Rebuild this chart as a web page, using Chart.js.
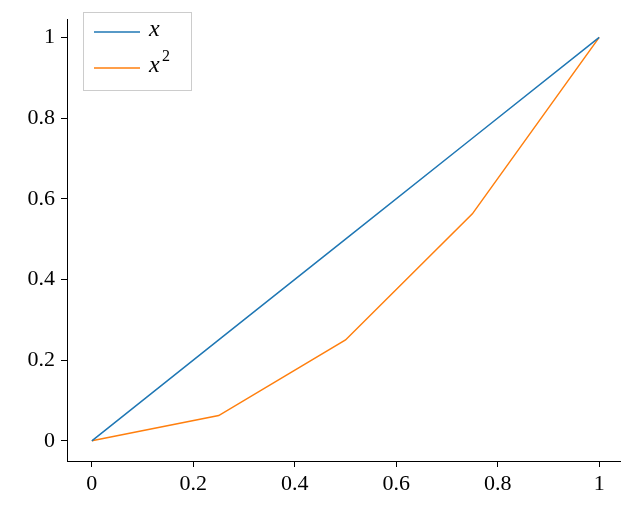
<!DOCTYPE html>
<html>
<head>
<meta charset="utf-8">
<script src="https://cdn.jsdelivr.net/npm/chart.js@4/dist/chart.umd.min.js"></script>
<style>
  html, body { margin: 0; padding: 0; background: #fff; }
  #wrap { width: 621px; height: 509px; }
</style>
</head>
<body>
<div id="wrap"><canvas id="plot" width="621" height="509"></canvas></div>
<script>
const xValues = [0, 0.25, 0.5, 0.75, 1];
const linearValues = [0, 0.25, 0.5, 0.75, 1];
const squareValues = [0, 0.0625, 0.25, 0.5625, 1];
const tickLabels = ["0", "0.2", "0.4", "0.6", "0.8", "1"];

const BLUE = "#1f77b4";
const ORANGE = "#ff7f0e";
const FONT = "'Liberation Serif', 'DejaVu Serif', serif";

// legend box drawn in the top-left corner like the original
const legendBox = {
  id: "legendBox",
  afterDraw(chart) {
    const ctx = chart.ctx;
    ctx.save();
    ctx.strokeStyle = "#cccccc";
    ctx.lineWidth = 1;
    ctx.fillStyle = "#fff";
    ctx.fillRect(83.5, 12.5, 108, 78);
    ctx.strokeRect(83.5, 12.5, 108, 78);
    const rows = [[BLUE, 32, false], [ORANGE, 68, true]];
    rows.forEach(([color, y, sq]) => {
      ctx.strokeStyle = color;
      ctx.lineWidth = 1.5;
      ctx.beginPath();
      ctx.moveTo(94, y);
      ctx.lineTo(140, y);
      ctx.stroke();
      ctx.fillStyle = "#000";
      ctx.font = "italic 24px " + FONT;
      ctx.textBaseline = "middle";
      ctx.fillText("x", 149, y - 2);
      if (sq) {
        ctx.font = "16px " + FONT;
        ctx.fillText("2", 162, y - 11);
      }
    });
    ctx.restore();
  }
};

const toPoints = (ys) => xValues.map((x, i) => ({ x: x, y: ys[i] }));

new Chart(document.getElementById("plot").getContext("2d"), {
  type: "line",
  data: {
    datasets: [
      { label: "x", data: toPoints(linearValues), borderColor: BLUE, borderWidth: 1.5, pointRadius: 0, tension: 0 },
      { label: "x²", data: toPoints(squareValues), borderColor: ORANGE, borderWidth: 1.5, pointRadius: 0, tension: 0 }
    ]
  },
  plugins: [legendBox],
  options: {
    responsive: false,
    animation: false,
    layout: { padding: { top: -18, right: 1, left: 0, bottom: 0 } },
    plugins: { legend: { display: false }, tooltip: { enabled: false } },
    scales: {
      x: {
        type: "linear",
        min: -0.049,
        max: 1.041,
        afterFit: (s) => { s.height = 48; },
        afterBuildTicks: (s) => { s.ticks = [0, 0.2, 0.4, 0.6, 0.8, 1].map(v => ({ value: v })); },
        grid: { drawOnChartArea: false, tickLength: 6, color: "#000" },
        border: { color: "#000", width: 1 },
        ticks: {
          color: "#000",
          font: { family: FONT, size: 22 },
          padding: 4,
          maxRotation: 0,
          callback: (v) => tickLabels[Math.round(v * 5)]
        }
      },
      y: {
        type: "linear",
        min: -0.05,
        max: 1.045,
        afterFit: (s) => { s.width = 67; },
        afterBuildTicks: (s) => { s.ticks = [0, 0.2, 0.4, 0.6, 0.8, 1].map(v => ({ value: v })); },
        grid: { drawOnChartArea: false, tickLength: 6, color: "#000" },
        border: { color: "#000", width: 1 },
        ticks: {
          color: "#000",
          font: { family: FONT, size: 22 },
          padding: 6,
          callback: (v) => tickLabels[Math.round(v * 5)]
        }
      }
    }
  }
});
</script>
</body>
</html>
